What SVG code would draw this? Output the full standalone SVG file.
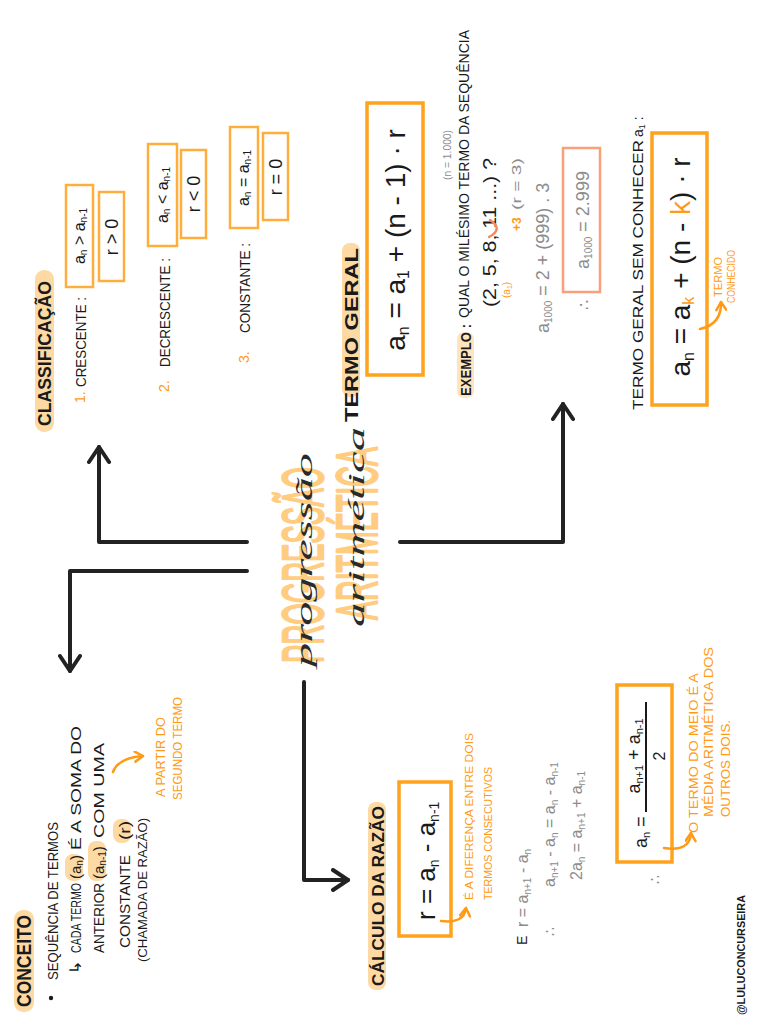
<svg xmlns="http://www.w3.org/2000/svg" width="768" height="1024" viewBox="0 0 768 1024">
<defs>
<style>
text{font-family:"Liberation Sans",Arial,sans-serif;}
.b{fill:#1a1a1a}
.o{fill:#FF9A14}
.g{fill:#8c8c8c}
.ti{font-weight:bold;fill:#1a1a1a}
.box{fill:none;stroke:#FFA21C;stroke-width:3.5}
.box2{fill:none;stroke:#FFAE3C;stroke-width:2.5}
.hl{fill:#FDD9A4}
.conn{fill:none;stroke:#222;stroke-width:4;stroke-linecap:round;stroke-linejoin:round}
.oarr{fill:none;stroke:#FF9A14;stroke-width:2.5;stroke-linecap:round}
.big{fill:#FFCC80;stroke:#FFCC80;stroke-width:2.5;stroke-linejoin:round;font-size:57px}
.scr{font-family:"Liberation Serif",serif;font-style:italic;fill:#2a2a2a;font-size:24px}
</style>
<marker id="ah" viewBox="0 0 20 24" refX="18" refY="12" markerWidth="20" markerHeight="24" markerUnits="userSpaceOnUse" orient="auto">
<path d="M3,2 L18,12 L3,22" fill="none" stroke="#222" stroke-width="4" stroke-linecap="round" stroke-linejoin="round"/>
</marker>
<marker id="oh" viewBox="0 0 12 12" refX="10" refY="6" markerWidth="12" markerHeight="12" markerUnits="userSpaceOnUse" orient="auto">
<path d="M2,1 L10,6 L2,11" fill="none" stroke="#FF9A14" stroke-width="2.5" stroke-linecap="round" stroke-linejoin="round"/>
</marker>
</defs>
<rect width="768" height="1024" fill="#ffffff"/>
<g transform="translate(0 1024) rotate(-90)">

<g id="connectors">
<polyline class="conn" points="482,247 482,99 577,99" marker-end="url(#ah)"/>
<polyline class="conn" points="453,247 453,70 353,70" marker-end="url(#ah)"/>
<polyline class="conn" points="342,304 144,304 144,348" marker-end="url(#ah)"/>
<polyline class="conn" points="482,400 482,563 620,563" marker-end="url(#ah)"/>
</g>

<g id="title">
<text class="big" x="361" y="323" textLength="196" lengthAdjust="spacingAndGlyphs">PROGRESSÃO</text>
<text class="big" x="404" y="377" textLength="173" lengthAdjust="spacingAndGlyphs">ARITMÉTICA</text>
<text class="scr" x="357" y="312" textLength="214" lengthAdjust="spacingAndGlyphs">progressão</text>
<text class="scr" x="397" y="364" textLength="200" lengthAdjust="spacingAndGlyphs">aritmética</text>
</g>

<g id="conceito">
<rect class="hl" x="12" y="14" width="102" height="20" rx="9"/>
<text class="ti" x="17" y="31" font-size="20" textLength="92" lengthAdjust="spacingAndGlyphs">CONCEITO</text>
<circle cx="26" cy="51" r="2.2" fill="#1a1a1a"/>
<text class="b" x="44" y="58" font-size="15" textLength="158" lengthAdjust="spacingAndGlyphs">SEQUÊNCIA DE TERMOS</text>
<rect class="hl" x="143" y="65" width="27" height="18" rx="8"/>
<rect class="hl" x="143" y="88" width="40" height="18" rx="8"/>
<rect class="hl" x="181" y="113" width="24" height="18" rx="8"/>
<text class="b" x="50" y="81" font-size="16" font-family="DejaVu Sans">↳</text>
<text class="b" x="71" y="81" font-size="14" textLength="70" lengthAdjust="spacingAndGlyphs">CADA TERMO</text>
<text class="b" x="145" y="81" font-size="15">(a<tspan font-size="10" dy="2">n</tspan><tspan dy="-2">)</tspan></text>
<text class="b" x="174" y="81" font-size="15" textLength="124" lengthAdjust="spacingAndGlyphs">É A SOMA DO</text>
<text class="b" x="71" y="104" font-size="15" textLength="70" lengthAdjust="spacingAndGlyphs">ANTERIOR</text>
<text class="b" x="145" y="104" font-size="15">(a<tspan font-size="10" dy="2">n-1</tspan><tspan dy="-2">)</tspan></text>
<text class="b" x="186" y="104" font-size="15" textLength="95" lengthAdjust="spacingAndGlyphs">COM UMA</text>
<text class="b" x="76" y="130" font-size="15" textLength="93" lengthAdjust="spacingAndGlyphs">CONSTANTE</text>
<text class="b" x="184" y="130" font-size="15" textLength="19" lengthAdjust="spacingAndGlyphs">(r)</text>
<text class="b" x="62" y="147" font-size="12" textLength="144" lengthAdjust="spacingAndGlyphs">(CHAMADA DE RAZÃO)</text>
<path class="oarr" d="M252,113 Q266,118 268,143" marker-end="url(#oh)"/>
<text class="o" x="227" y="165" font-size="12" textLength="80" lengthAdjust="spacingAndGlyphs">A PARTIR DO</text>
<text class="o" x="224" y="182" font-size="12" textLength="103" lengthAdjust="spacingAndGlyphs">SEGUNDO TERMO</text>
</g>

<g id="classificacao">
<rect class="hl" x="592" y="35" width="162" height="19" rx="9"/>
<text class="ti" x="598" y="51" font-size="18" textLength="145" lengthAdjust="spacingAndGlyphs">CLASSIFICAÇÃO</text>
<text class="o" x="621" y="85" font-size="14">1.</text>
<text class="b" x="637" y="86" font-size="14" textLength="90" lengthAdjust="spacingAndGlyphs">CRESCENTE :</text>
<rect class="box2" x="737" y="66" width="102" height="27"/>
<text class="b" x="788" y="85" font-size="16" text-anchor="middle">a<tspan font-size="10" dy="2">n</tspan><tspan dy="-2"> &gt; a</tspan><tspan font-size="10" dy="2">n-1</tspan></text>
<rect class="box2" x="743" y="99" width="89" height="25"/>
<text class="b" x="787" y="118" font-size="18" text-anchor="middle">r &gt; 0</text>

<text class="o" x="632" y="169" font-size="14">2.</text>
<text class="b" x="657" y="170" font-size="14" textLength="109" lengthAdjust="spacingAndGlyphs">DECRESCENTE :</text>
<rect class="box2" x="778" y="148" width="102" height="29"/>
<text class="b" x="829" y="168" font-size="16" text-anchor="middle">a<tspan font-size="10" dy="2">n</tspan><tspan dy="-2"> &lt; a</tspan><tspan font-size="10" dy="2">n-1</tspan></text>
<rect class="box2" x="786" y="181" width="88" height="25"/>
<text class="b" x="830" y="200" font-size="18" text-anchor="middle">r &lt; 0</text>

<text class="o" x="661" y="249" font-size="14">3.</text>
<text class="b" x="691" y="250" font-size="14" textLength="90" lengthAdjust="spacingAndGlyphs">CONSTANTE :</text>
<rect class="box2" x="796" y="230" width="101" height="28"/>
<text class="b" x="846" y="249" font-size="16" text-anchor="middle">a<tspan font-size="10" dy="2">n</tspan><tspan dy="-2"> = a</tspan><tspan font-size="10" dy="2">n-1</tspan></text>
<rect class="box2" x="804" y="263" width="87" height="25"/>
<text class="b" x="847" y="282" font-size="18" text-anchor="middle">r = 0</text>
</g>

<g id="termo-geral">
<rect class="hl" x="627" y="342" width="154" height="18" rx="8"/>
<text class="ti" x="602" y="358" font-size="18" textLength="174" lengthAdjust="spacingAndGlyphs">TERMO GERAL</text>
<rect class="box" x="649" y="367" width="272" height="56"/>
<text class="b" x="784" y="405" font-size="28" text-anchor="middle">a<tspan font-size="16" dy="4">n</tspan><tspan dy="-4"> = a</tspan><tspan font-size="16" dy="4">1</tspan><tspan dy="-4"> + (n - 1) · r</tspan></text>

<text class="g" x="844" y="451" font-size="10" textLength="50" lengthAdjust="spacingAndGlyphs">(n = 1.000)</text>
<rect class="hl" x="626" y="457" width="66" height="17" rx="7" opacity="0.7"/>
<text class="ti" x="628" y="471" font-size="14" textLength="72" lengthAdjust="spacingAndGlyphs">EXEMPLO :</text>
<text class="b" x="706" y="469" font-size="14" textLength="288" lengthAdjust="spacingAndGlyphs">QUAL O MILÉSIMO TERMO DA SEQUÊNCIA</text>
<text class="b" x="717" y="496" font-size="18" textLength="149" lengthAdjust="spacingAndGlyphs">(2, 5, 8, 11 ...) ?</text>
<text class="o" x="726" y="510" font-size="10">(a<tspan font-size="7" dy="2">1</tspan><tspan dy="-2">)</tspan></text>
<path d="M787,489 Q795,504 804,490" fill="none" stroke="#F7885A" stroke-width="2.5" stroke-linecap="round"/>
<text class="o" x="793" y="521" font-size="12" font-weight="bold">+3</text>
<text class="g" x="814" y="521" font-size="12" textLength="52" lengthAdjust="spacingAndGlyphs">(r = 3)</text>

<text class="g" x="691" y="549" font-size="18">a<tspan font-size="10" dy="3">1000</tspan><tspan dy="-3"> = 2 + (999) . 3</tspan></text>
<text class="g" x="714" y="590" font-size="16">∴</text>
<rect x="732" y="563" width="144" height="37" fill="none" stroke="#F8A07A" stroke-width="2.5"/>
<text class="g" x="804" y="589" font-size="18" text-anchor="middle">a<tspan font-size="10" dy="3">1000</tspan><tspan dy="-3"> = 2.999</tspan></text>

<text class="b" x="614" y="643" font-size="14" textLength="270" lengthAdjust="spacingAndGlyphs">TERMO GERAL SEM CONHECER</text>
<text class="b" x="887" y="643" font-size="14">a<tspan font-size="9" dy="2">1</tspan><tspan dy="-2"> :</tspan></text>
<rect class="box" x="619" y="652" width="272" height="55"/>
<text class="b" x="757" y="690" font-size="28" text-anchor="middle">a<tspan font-size="16" dy="4">n</tspan><tspan dy="-4"> = a</tspan><tspan font-size="16" dy="4" class="o">k</tspan><tspan dy="-4"> + (n - </tspan><tspan class="o">k</tspan><tspan>) · r</tspan></text>
<path class="oarr" d="M695,700 Q700,722 722,721" marker-end="url(#oh)"/>
<text class="o" x="727" y="722" font-size="10" textLength="40" lengthAdjust="spacingAndGlyphs">TERMO</text>
<text class="o" x="721" y="735" font-size="10" textLength="53" lengthAdjust="spacingAndGlyphs">CONHECIDO</text>
</g>

<g id="calculo-razao">
<rect class="hl" x="34" y="368" width="188" height="18" rx="8"/>
<text class="ti" x="38" y="384" font-size="17" textLength="180" lengthAdjust="spacingAndGlyphs">CÁLCULO DA RAZÃO</text>
<rect class="box" x="88" y="399" width="154" height="52"/>
<text class="b" x="104" y="435" font-size="26">r = a<tspan font-size="14" dy="4">n</tspan><tspan dy="-4"> - a</tspan><tspan font-size="14" dy="4">n-1</tspan></text>
<path class="oarr" d="M103,441 Q100,464 116,466" marker-end="url(#oh)"/>
<text class="o" x="124" y="473" font-size="11" textLength="167" lengthAdjust="spacingAndGlyphs">É A DIFERENÇA ENTRE DOIS</text>
<text class="o" x="124" y="492" font-size="11" textLength="133" lengthAdjust="spacingAndGlyphs">TERMOS CONSECUTIVOS</text>

<text class="b" x="79" y="527" font-size="14">E</text>
<text class="g" x="97" y="528" font-size="16">r = a<tspan font-size="10" dy="3">n+1</tspan><tspan dy="-3"> - a</tspan><tspan font-size="10" dy="3">n</tspan></text>
<text class="g" x="88" y="555" font-size="14">∴</text>
<text class="g" x="137" y="555" font-size="16">a<tspan font-size="10" dy="3">n+1</tspan><tspan dy="-3"> - a</tspan><tspan font-size="10" dy="3">n</tspan><tspan dy="-3">  =  a</tspan><tspan font-size="10" dy="3">n</tspan><tspan dy="-3"> - a</tspan><tspan font-size="10" dy="3">n-1</tspan></text>
<text class="g" x="144" y="582" font-size="16">2a<tspan font-size="10" dy="3">n</tspan><tspan dy="-3"> = a</tspan><tspan font-size="10" dy="3">n+1</tspan><tspan dy="-3"> + a</tspan><tspan font-size="10" dy="3">n-1</tspan></text>

<text class="g" x="140" y="660" font-size="14">∴</text>
<rect class="box" x="162" y="617" width="177" height="55"/>
<text class="b" x="176" y="647" font-size="18">a<tspan font-size="11" dy="3">n</tspan><tspan dy="-3"> =</tspan></text>
<text class="b" x="268" y="640" font-size="18" text-anchor="middle">a<tspan font-size="11" dy="3">n+1</tspan><tspan dy="-3"> + a</tspan><tspan font-size="11" dy="3">n-1</tspan></text>
<line x1="212" y1="646" x2="322" y2="646" stroke="#1a1a1a" stroke-width="2"/>
<text class="b" x="268" y="665" font-size="16" text-anchor="middle">2</text>
<path class="oarr" d="M176,664 Q172,690 191,691" marker-end="url(#oh)"/>
<text class="o" x="191" y="698" font-size="12" textLength="160" lengthAdjust="spacingAndGlyphs">O TERMO DO MEIO É A</text>
<text class="o" x="207" y="713" font-size="12" textLength="170" lengthAdjust="spacingAndGlyphs">MÉDIA ARITMÉTICA DOS</text>
<text class="o" x="207" y="730" font-size="12" textLength="97" lengthAdjust="spacingAndGlyphs">OUTROS DOIS.</text>
</g>

<g id="watermark">
<text class="ti" x="9" y="745" font-size="10" textLength="120" lengthAdjust="spacingAndGlyphs">@LULUCONCURSEIRA</text>
</g>

</g>
</svg>
